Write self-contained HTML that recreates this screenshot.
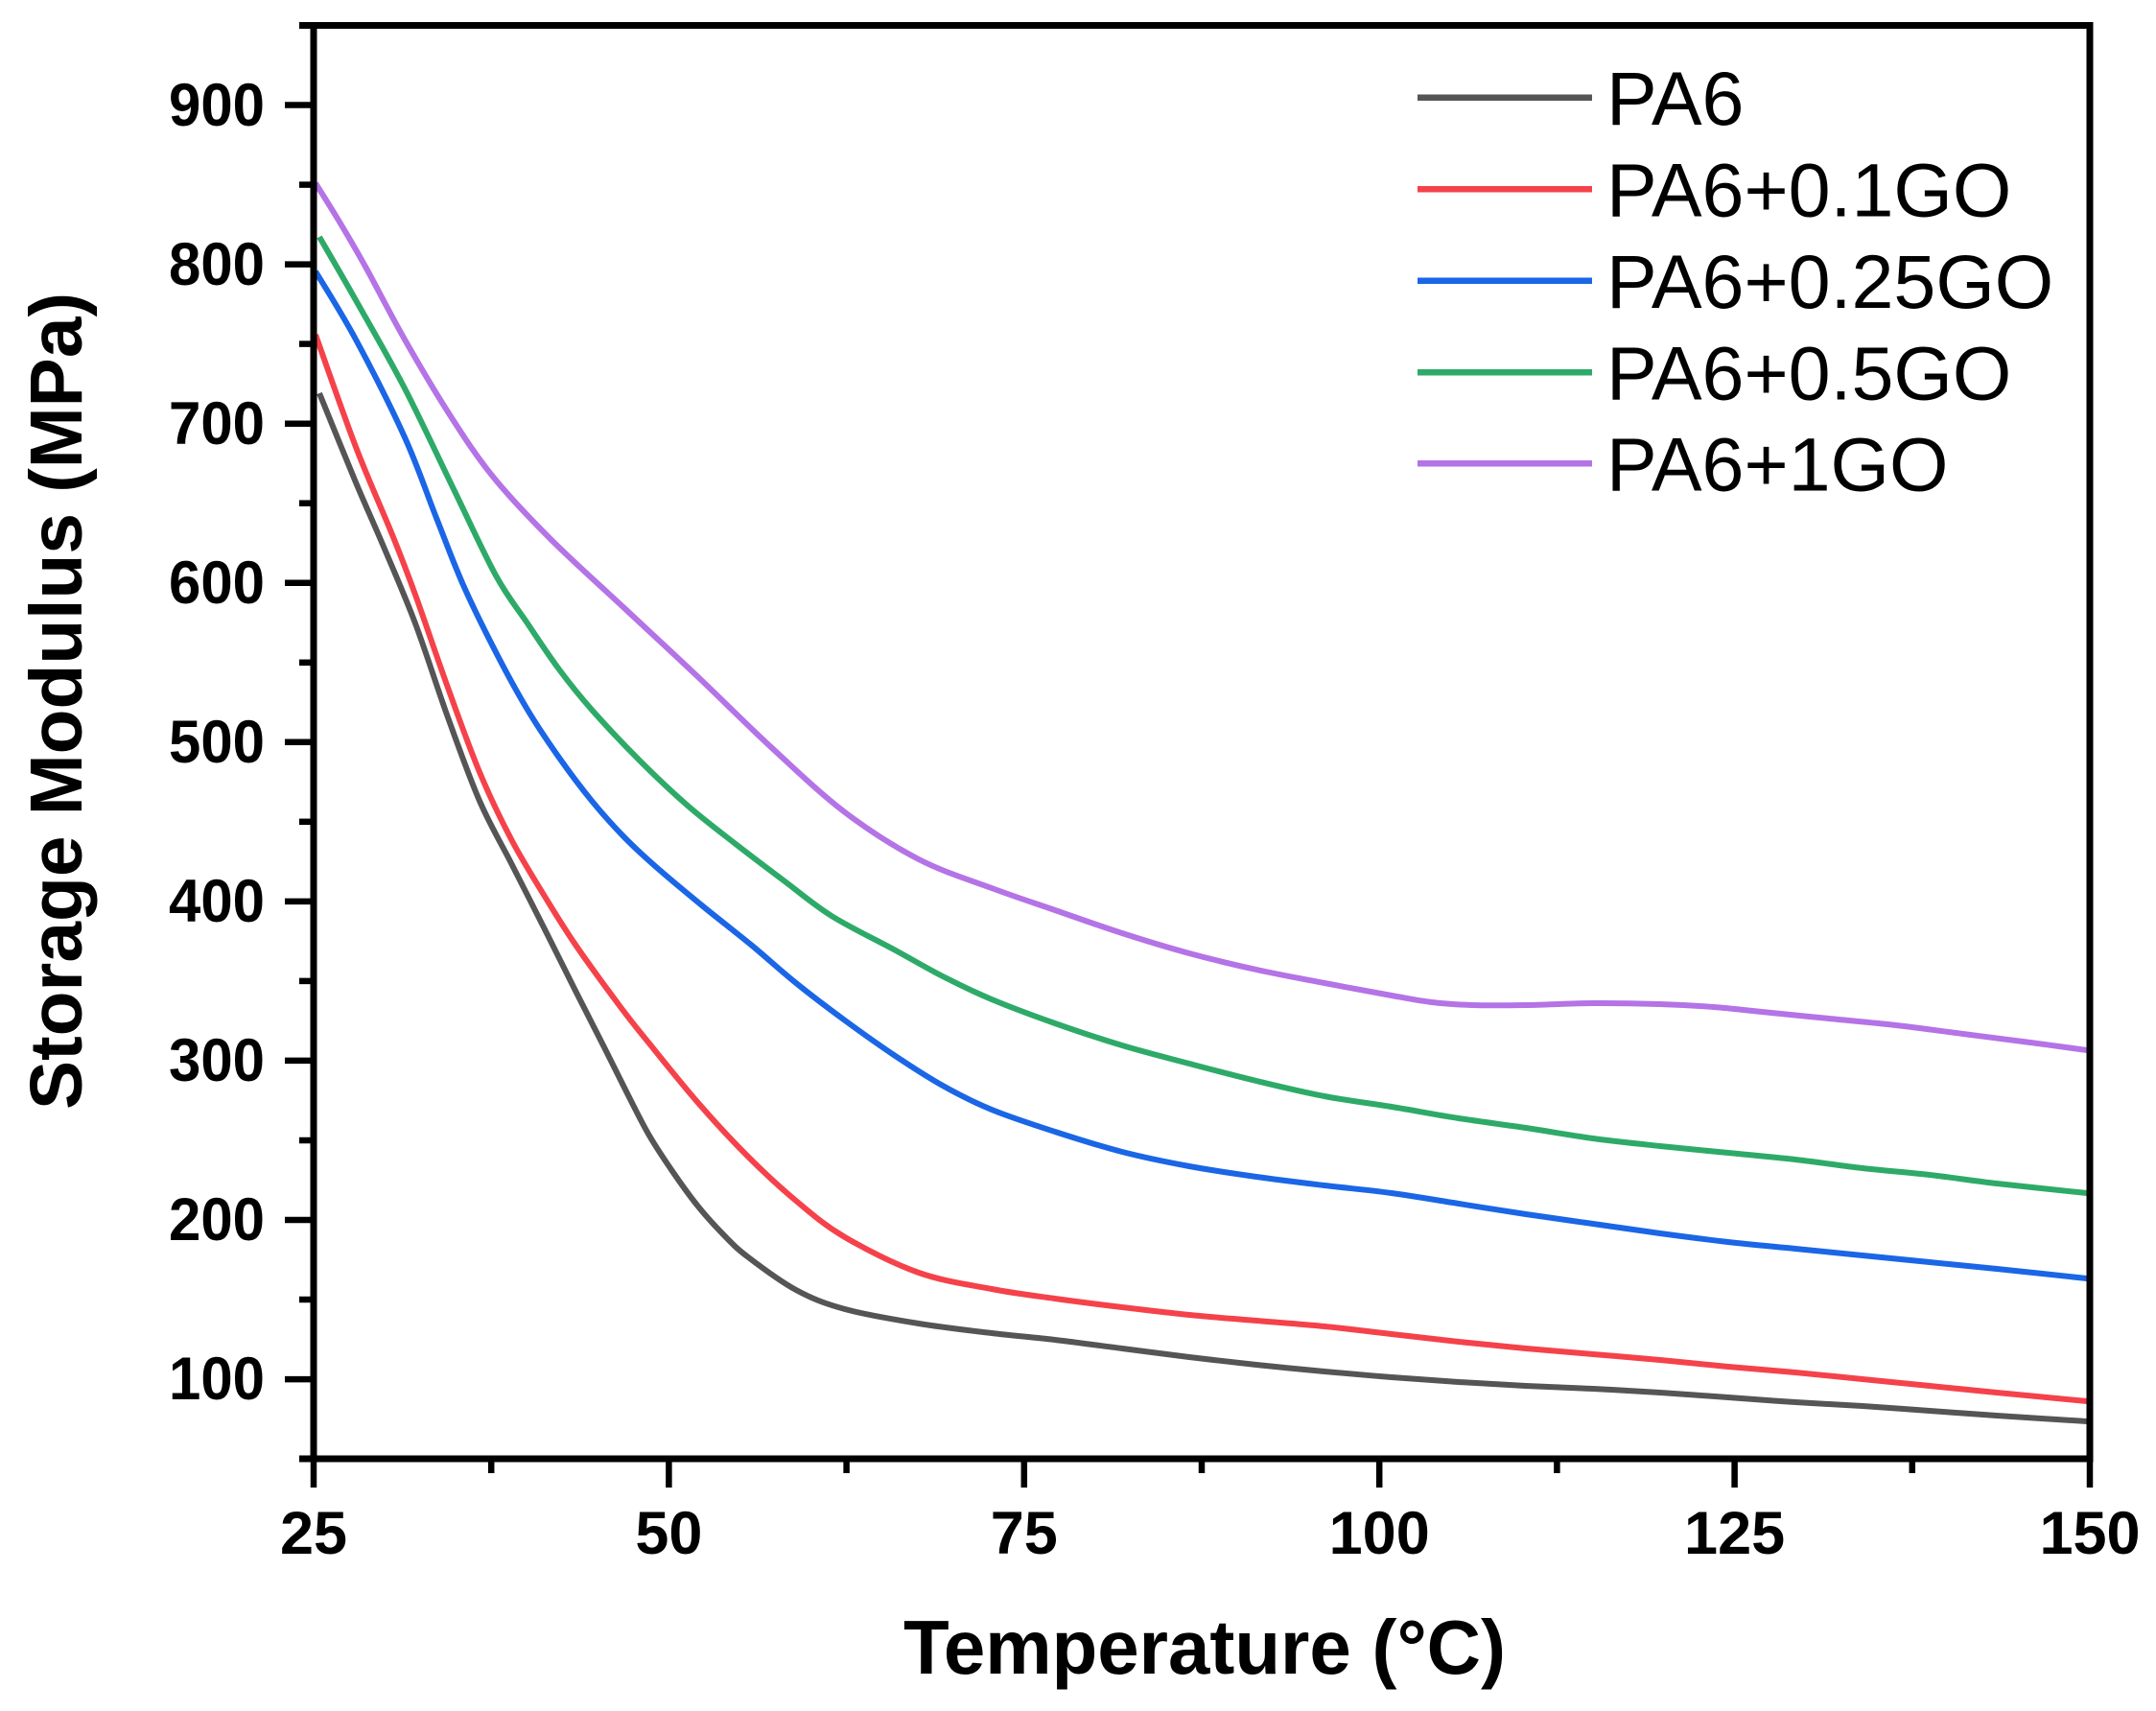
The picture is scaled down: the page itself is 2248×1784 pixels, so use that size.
<!DOCTYPE html>
<html>
<head>
<meta charset="utf-8">
<style>
  html,body{margin:0;padding:0;background:#fff;}
  svg{display:block;}
  .tk{font-family:"Liberation Sans",Arial,sans-serif;font-weight:bold;font-size:63px;fill:#000;}
  .ttl{font-family:"Liberation Sans",Arial,sans-serif;font-weight:bold;fill:#000;}
  .lg{font-family:"Liberation Sans",Arial,sans-serif;font-size:79px;fill:#000;}
  .c{fill:none;stroke-width:6;stroke-linejoin:round;stroke-linecap:butt;}
</style>
</head>
<body>
<svg id="chart" width="2248" height="1784" viewBox="0 0 2248 1784" xmlns="http://www.w3.org/2000/svg">
  <rect x="0" y="0" width="2248" height="1784" fill="#fff"/>

  <!-- curves -->
  <polyline class="c" stroke="#555555" points="333,410 371,503 400,570 433,650 467,748 500,835 533,900 567,967 600,1033 630,1092 655,1142 677,1184 703,1224 728,1258 754,1287 779,1310 830,1345 881,1365 958,1380 1034,1390 1100,1397 1170,1406 1240,1415 1310,1423 1381,1430 1451,1436 1521,1441 1591,1445 1661,1448 1731,1452 1802,1457 1872,1462 1942,1466 2012,1471 2082,1476 2176,1482"/>
  <polyline class="c" stroke="#F5424A" points="329,349 371,466 410,560 433,620 467,717 500,805 533,875 567,933 600,985 647,1050 677,1088 728,1150 779,1205 830,1252 881,1290 958,1327 1034,1344 1100,1354 1170,1363 1240,1371 1310,1377 1381,1383 1451,1391 1521,1399 1591,1406 1661,1412 1731,1418 1802,1425 1872,1431 1942,1438 2012,1445 2082,1452 2176,1461"/>
  <polyline class="c" stroke="#1A66E6" points="329,283 371,354 422,456 455,540 483,610 517,680 550,740 583,790 617,835 650,872 683,903 733,945 783,985 830,1025 881,1064 932,1100 983,1132 1034,1157 1100,1180 1170,1201 1240,1216 1310,1227 1381,1236 1451,1244 1521,1255 1591,1266 1661,1276 1731,1286 1802,1295 1872,1302 1942,1309 2012,1316 2082,1323 2176,1333"/>
  <polyline class="c" stroke="#2EAA68" points="333,247 371,313 422,405 473,510 517,600 550,650 583,698 617,740 667,793 717,840 767,880 817,918 867,955 932,990 983,1018 1034,1042 1100,1067 1170,1090 1240,1109 1310,1127 1381,1143 1451,1154 1521,1166 1591,1176 1661,1187 1731,1195 1802,1202 1872,1209 1942,1218 2012,1225 2082,1234 2176,1244"/>
  <polyline class="c" stroke="#B473E6" points="329,191 355,233 381,278 422,354 468,431 514,497 575,563 652,635 728,706 805,780 881,847 958,896 1034,926 1100,949 1170,973 1240,994 1310,1011 1381,1025 1451,1038 1493,1045 1535,1048 1591,1048 1661,1046 1731,1047 1787,1050 1837,1055 1907,1062 1977,1069 2047,1078 2117,1087 2176,1095"/>

  <!-- frame -->
  <g stroke="#000" stroke-width="7" fill="none">
    <line x1="312" y1="26.5" x2="2182.5" y2="26.5"/>
    <line x1="312" y1="1521" x2="2182.5" y2="1521"/>
    <line x1="327" y1="23" x2="327" y2="1524.5"/>
    <line x1="2179" y1="23" x2="2179" y2="1524.5"/>
  </g>

  <!-- y ticks -->
  <g stroke="#000" stroke-width="6.5">
    <line x1="297" y1="109.5" x2="327" y2="109.5"/>
    <line x1="297" y1="275.6" x2="327" y2="275.6"/>
    <line x1="297" y1="441.7" x2="327" y2="441.7"/>
    <line x1="297" y1="607.7" x2="327" y2="607.7"/>
    <line x1="297" y1="773.8" x2="327" y2="773.8"/>
    <line x1="297" y1="939.9" x2="327" y2="939.9"/>
    <line x1="297" y1="1105.9" x2="327" y2="1105.9"/>
    <line x1="297" y1="1272.0" x2="327" y2="1272.0"/>
    <line x1="297" y1="1438.1" x2="327" y2="1438.1"/>
    <line x1="312" y1="192.6" x2="327" y2="192.6"/>
    <line x1="312" y1="358.6" x2="327" y2="358.6"/>
    <line x1="312" y1="524.7" x2="327" y2="524.7"/>
    <line x1="312" y1="690.8" x2="327" y2="690.8"/>
    <line x1="312" y1="856.8" x2="327" y2="856.8"/>
    <line x1="312" y1="1022.9" x2="327" y2="1022.9"/>
    <line x1="312" y1="1189.0" x2="327" y2="1189.0"/>
    <line x1="312" y1="1355.0" x2="327" y2="1355.0"/>
  </g>

  <!-- x ticks -->
  <g stroke="#000" stroke-width="6.5">
    <line x1="327" y1="1521" x2="327" y2="1551"/>
    <line x1="697.4" y1="1521" x2="697.4" y2="1551"/>
    <line x1="1067.8" y1="1521" x2="1067.8" y2="1551"/>
    <line x1="1438.2" y1="1521" x2="1438.2" y2="1551"/>
    <line x1="1808.6" y1="1521" x2="1808.6" y2="1551"/>
    <line x1="2179" y1="1521" x2="2179" y2="1551"/>
    <line x1="512.2" y1="1521" x2="512.2" y2="1536"/>
    <line x1="882.6" y1="1521" x2="882.6" y2="1536"/>
    <line x1="1253" y1="1521" x2="1253" y2="1536"/>
    <line x1="1623.4" y1="1521" x2="1623.4" y2="1536"/>
    <line x1="1993.8" y1="1521" x2="1993.8" y2="1536"/>
  </g>

  <!-- y tick labels -->
  <g class="tk" text-anchor="end">
    <text x="276" y="131" textLength="100" lengthAdjust="spacingAndGlyphs">900</text>
    <text x="276" y="297" textLength="100" lengthAdjust="spacingAndGlyphs">800</text>
    <text x="276" y="463" textLength="100" lengthAdjust="spacingAndGlyphs">700</text>
    <text x="276" y="629" textLength="100" lengthAdjust="spacingAndGlyphs">600</text>
    <text x="276" y="795" textLength="100" lengthAdjust="spacingAndGlyphs">500</text>
    <text x="276" y="961" textLength="100" lengthAdjust="spacingAndGlyphs">400</text>
    <text x="276" y="1127" textLength="100" lengthAdjust="spacingAndGlyphs">300</text>
    <text x="276" y="1293" textLength="100" lengthAdjust="spacingAndGlyphs">200</text>
    <text x="276" y="1459" textLength="100" lengthAdjust="spacingAndGlyphs">100</text>
  </g>

  <!-- x tick labels -->
  <g class="tk" text-anchor="middle">
    <text x="327" y="1620">25</text>
    <text x="697.4" y="1620">50</text>
    <text x="1067.8" y="1620">75</text>
    <text x="1438.2" y="1620">100</text>
    <text x="1808.6" y="1620">125</text>
    <text x="2179" y="1620">150</text>
  </g>

  <!-- axis titles -->
  <text class="ttl" x="1256" y="1745" font-size="80" text-anchor="middle" textLength="628" lengthAdjust="spacingAndGlyphs">Temperature (°C)</text>
  <text class="ttl" transform="translate(85,731) rotate(-90)" font-size="77" text-anchor="middle" textLength="852" lengthAdjust="spacingAndGlyphs">Storage Modulus (MPa)</text>

  <!-- legend -->
  <g stroke-width="6.5">
    <line x1="1478" y1="101.7" x2="1660" y2="101.7" stroke="#555555"/>
    <line x1="1478" y1="197.3" x2="1660" y2="197.3" stroke="#F5424A"/>
    <line x1="1478" y1="292.7" x2="1660" y2="292.7" stroke="#1A66E6"/>
    <line x1="1478" y1="388.3" x2="1660" y2="388.3" stroke="#2EAA68"/>
    <line x1="1478" y1="483.3" x2="1660" y2="483.3" stroke="#B473E6"/>
  </g>
  <g class="lg">
    <text x="1675" y="130">PA6</text>
    <text x="1675" y="225.5">PA6+0.1GO</text>
    <text x="1675" y="321">PA6+0.25GO</text>
    <text x="1675" y="416.5">PA6+0.5GO</text>
    <text x="1675" y="511.5">PA6+1GO</text>
  </g>
</svg>
<script>
(function(){
  try{
    var svgNS="http://www.w3.org/2000/svg";
    var pls=document.querySelectorAll('polyline.c');
    for(var k=0;k<pls.length;k++){
      var pl=pls[k];
      var raw=pl.getAttribute('points').trim().split(/\s+/);
      var p=[];
      for(var i=0;i<raw.length;i++){var a=raw[i].split(',');p.push([+a[0],+a[1]]);}
      var d='M'+p[0][0]+','+p[0][1];
      for(var i=0;i<p.length-1;i++){
        var p0=p[i-1]||p[i],p1=p[i],p2=p[i+1],p3=p[i+2]||p[i+1];
        var c1x=p1[0]+(p2[0]-p0[0])/6,c1y=p1[1]+(p2[1]-p0[1])/6;
        var c2x=p2[0]-(p3[0]-p1[0])/6,c2y=p2[1]-(p3[1]-p1[1])/6;
        d+=' C'+c1x.toFixed(2)+','+c1y.toFixed(2)+' '+c2x.toFixed(2)+','+c2y.toFixed(2)+' '+p2[0]+','+p2[1];
      }
      var path=document.createElementNS(svgNS,'path');
      path.setAttribute('d',d);
      path.setAttribute('class','c');
      path.setAttribute('stroke',pl.getAttribute('stroke'));
      pl.parentNode.replaceChild(path,pl);
    }
  }catch(e){}
})();
</script>
</body>
</html>
